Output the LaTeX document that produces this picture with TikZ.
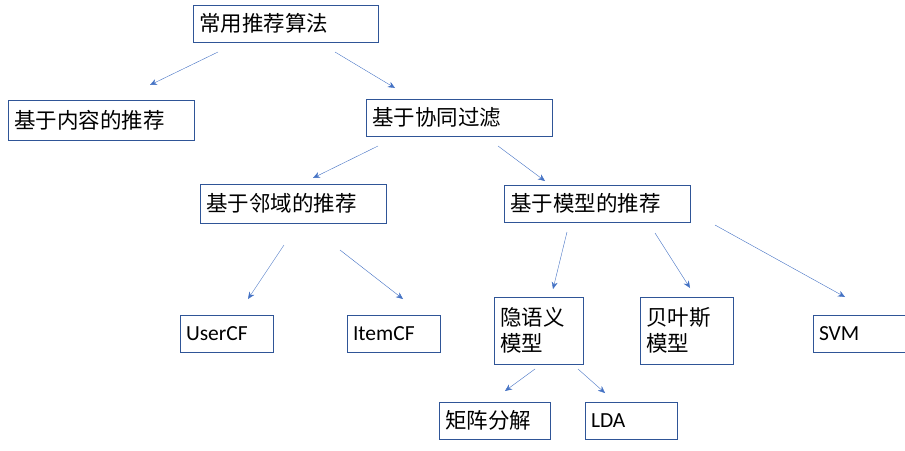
\documentclass[tikz,border=0pt]{standalone}
\usepackage{fontspec}
\setmainfont{Carlito}
\newfontfamily\cjk{Noto Sans CJK SC}
\usetikzlibrary{arrows.meta}
\definecolor{boxline}{RGB}{47,85,151}
\definecolor{arrowblue}{RGB}{68,114,196}
\tikzset{
  box/.style={draw=boxline, thick, align=left, inner sep=6pt, font=\fontsize{21.5}{26}\selectfont},
  link/.style={draw=arrowblue, -{Stealth[length=7pt,width=6pt]}}
}
% box: name, x1, y1, x2, y2, text
\newcommand{\bx}[6]{%
  \node[box, minimum width={#4-#2}, minimum height={#5-#3}, text width={#4-#2-12}]
    (#1) at ({(#2+#4)/2},{(#3+#5)/2}) {#6};}
\begin{document}
\begin{tikzpicture}[x=1pt,y=-1pt]
    \useasboundingbox (0,0) rectangle (905,450);
    % boxes
    \bx{root}{193}{5}{378}{42}{\cjk 常用推荐算法}
    \bx{content}{8}{100}{194}{140}{\cjk 基于内容的推荐}
    \bx{cf}{366}{99}{552}{136}{\cjk 基于协同过滤}
    \bx{nbr}{200}{184}{386}{223}{\cjk 基于邻域的推荐}
    \bx{model}{504}{185}{690}{222}{\cjk 基于模型的推荐}
    \bx{user}{180}{315}{273}{352}{UserCF}
    \bx{item}{347}{315}{440}{352}{ItemCF}
    \bx{latent}{494}{297}{583}{364}{\cjk 隐语义\\模型}
    \bx{bayes}{640}{297}{733}{364}{\cjk 贝叶斯\\模型}
    \bx{svm}{813}{315}{905}{352}{SVM}
    \bx{mf}{439}{402}{550}{439}{\cjk 矩阵分解}
    \bx{lda}{585}{402}{677}{439}{LDA}

    % free arrow ends
    \coordinate (r1) at (218,52);  \coordinate (c1) at (150,85);
    \coordinate (r2) at (335,52);  \coordinate (f1) at (395,88);
    \coordinate (f2) at (378,146); \coordinate (n1) at (313,178);
    \coordinate (f3) at (498,146); \coordinate (m1) at (545,181);
    \coordinate (n2) at (284,245); \coordinate (u1) at (248,299);
    \coordinate (n3) at (340,250); \coordinate (i1) at (403,299);
    \coordinate (m2) at (567,232); \coordinate (l1) at (553,289);
    \coordinate (m3) at (655,233); \coordinate (b1) at (690,288);
    \coordinate (m4) at (715,225); \coordinate (s1) at (845,297);
    \coordinate (l2) at (535,369); \coordinate (x1) at (505,391);
    \coordinate (l3) at (578,369); \coordinate (x2) at (605,393);

    % arrows
    \foreach \a/\b in {r1/c1, r2/f1, f2/n1, f3/m1, n2/u1, n3/i1,
                       m2/l1, m3/b1, m4/s1, l2/x1, l3/x2}
        \draw[link] (\a) -- (\b);
\end{tikzpicture}
\end{document}
